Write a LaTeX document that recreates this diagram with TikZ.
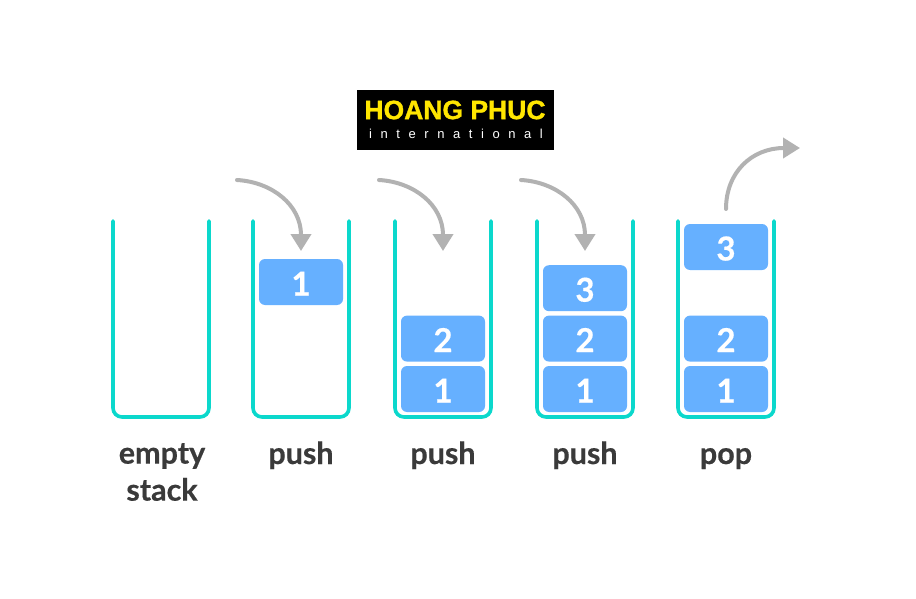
\documentclass[tikz,border=0pt]{standalone}
\usepackage{fontspec}
\usepackage{xcolor}
\setmainfont{Lato}[BoldFeatures={FakeBold=0.5}]
\newfontfamily\logofont{Liberation Sans}[BoldFeatures={FakeBold=1.2}]
\usetikzlibrary{arrows.meta, positioning}
\definecolor{cupcolor}{HTML}{0BD8CC}
\definecolor{blockcolor}{HTML}{66B0FF}
\definecolor{arrowcolor}{HTML}{B2B2B2}
\definecolor{labelcolor}{HTML}{3A3A3A}
\definecolor{logoyellow}{HTML}{FFE600}

\begin{document}
\begin{tikzpicture}[x=1pt, y=-1pt, node distance=4pt,
    block/.style={rectangle, rounded corners=6pt, fill=blockcolor, text=white, inner sep=0pt, minimum width=84pt, minimum height=46pt, text height=27pt, text depth=0pt, font=\fontsize{33}{33}\selectfont\bfseries},
    cup/.style={draw=cupcolor, line width=3.6pt, rounded corners=9pt, line cap=round},
    caption/.style={text=labelcolor, align=center, font=\fontsize{30.5}{37}\selectfont\bfseries, anchor=base, inner sep=0pt},
    flow/.style={draw=arrowcolor, line width=4pt, line cap=round, -{Triangle[width=20pt, length=17pt]}}]

    \useasboundingbox (0,0) rectangle (916,599);
    \fill[white] (0,0) rectangle (916,599);

    % logo
    \node[fill=black, minimum width=197pt, minimum height=60pt, inner sep=0pt] (logo) at (455,120) {};
    \node[text=logoyellow, inner sep=0pt, font=\logofont\fontsize{26.5}{26}\selectfont\bfseries] (logotop) at (455,110) {HOANG PHUC};
    \node[text=white, inner sep=0pt, font=\logofont\fontsize{13}{14}\selectfont\addfontfeature{LetterSpace=66}] (logobot) at (456,134) {international};

    % stacks
    \draw[cup] (113,221) -- (113,417) -- (209,417) -- (209,221);
    \draw[cup] (253,221) -- (253,417) -- (349,417) -- (349,221);
    \draw[cup] (395,221) -- (395,417) -- (491,417) -- (491,221);
    \draw[cup] (537,221) -- (537,417) -- (633,417) -- (633,221);
    \draw[cup] (678,221) -- (678,417) -- (774,417) -- (774,221);

    % blocks
    \node[block] (A1) at (301,282) {1};
    \node[block] (B1) at (443,389) {1};
    \node[block, above=of B1] (B2) {2};
    \node[block] (C1) at (585,389) {1};
    \node[block, above=of C1] (C2) {2};
    \node[block, above=of C2] (C3) {3};
    \node[block] (D1) at (726,389) {1};
    \node[block, above=of D1] (D2) {2};
    \node[block] (D3) at (726,247) {3};

    % captions
    \node[caption, anchor=north] (L0) at (162,443) {empty\\stack};
    \node[caption] (L1) at (301,464) {push};
    \node[caption] (L2) at (443,464) {push};
    \node[caption] (L3) at (585,464) {push};
    \node[caption] (L4) at (726,464) {pop};

    % arrows
    \coordinate (S1) at (237,180);
    \coordinate (E1) at (301,251);
    \coordinate (S2) at (379,180);
    \coordinate (E2) at (443,251);
    \coordinate (S3) at (521,180);
    \coordinate (E3) at (585,251);
    \coordinate (S4) at (726,209);
    \coordinate (E4) at (800,148);

    \draw[flow] (S1) .. controls (272,182) and (301,205) .. (E1);
    \draw[flow] (S2) .. controls (414,182) and (443,205) .. (E2);
    \draw[flow] (S3) .. controls (556,182) and (585,205) .. (E3);
    \draw[flow] (S4) .. controls (726,172) and (752,148) .. (E4);

\end{tikzpicture}
\end{document}
